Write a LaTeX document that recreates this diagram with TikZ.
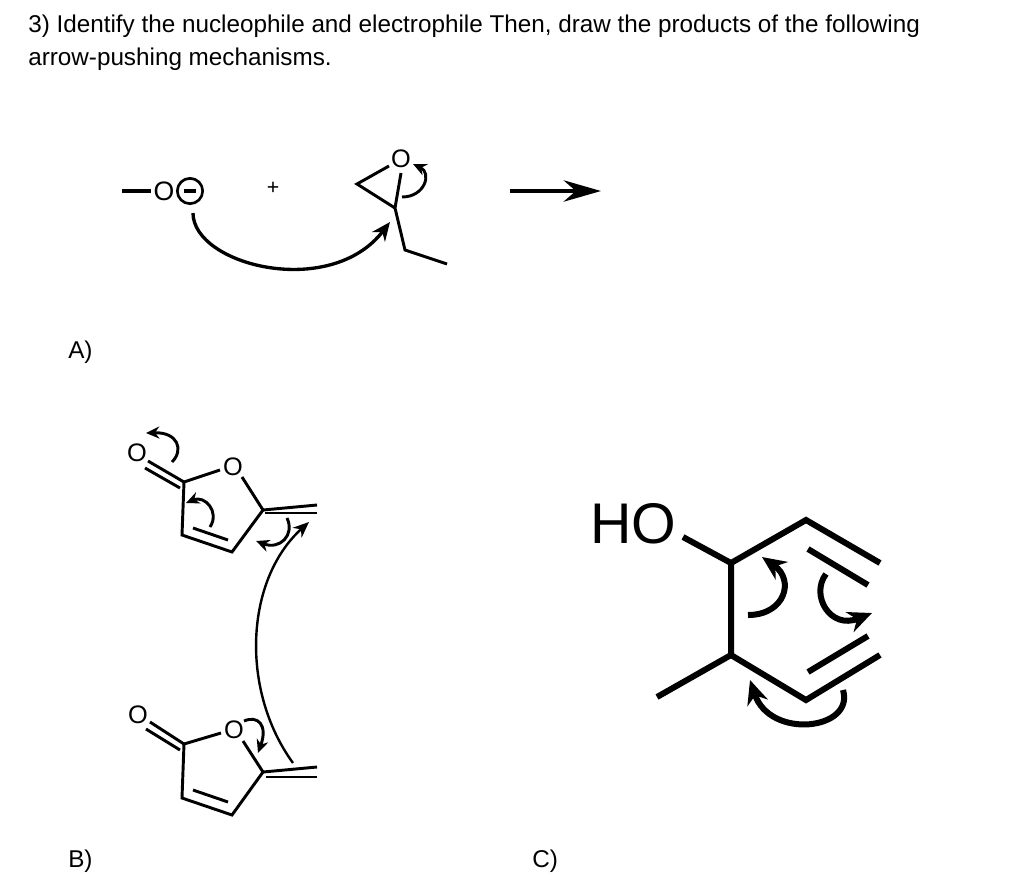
\documentclass[tikz,border=0pt]{standalone}
\usepackage{fontspec}
\setmainfont{Liberation Sans}
\usetikzlibrary{arrows.meta}
\begin{document}
\begin{tikzpicture}[x=0.75pt,y=-0.75pt,
  bt/.style={line width=3pt},
  bb/.style={line width=2.2pt},
  bc/.style={line width=4.5pt},
  arr/.style={-{Stealth[length=10pt,width=9pt]}},
  lab/.style={inner sep=0pt,font=\fontsize{18.2pt}{20pt}\selectfont},
  atom/.style={inner sep=0pt,font=\fontsize{19pt}{20pt}\selectfont}]
\useasboundingbox (0,0) rectangle (1024,883);
\fill[white] (0,0) rectangle (1024,883);
\node[lab,anchor=base west] (t1) at (28,32) {3) Identify the nucleophile and electrophile Then, draw the products of the following};
\node[lab,anchor=base west] (t2) at (28,65) {arrow-pushing mechanisms.};
\node[lab,anchor=base west] (la) at (68,358) {A)};
\node[lab,anchor=base west] (lb) at (68,867) {B)};
\node[lab,anchor=base west] (lc) at (532,867) {C)};
% top reaction
\draw[bt] (122,191) -- (151,191);
\node[font=\fontsize{20pt}{20pt}\selectfont,inner sep=0pt] (o1) at (164,191) {O};
\node[circle,draw,line width=2pt,minimum size=19pt,inner sep=0pt] (neg) at (190,191) {};
\draw[line width=2.5pt] (184,191) -- (196,191);
\node[inner sep=0pt,font=\fontsize{16pt}{16pt}\selectfont] (plus) at (273,188) {+};
\node[atom] (oe) at (401,159) {O};
\coordinate (cl) at (357,184);
\coordinate (cc) at (395,208);
\coordinate (ce) at (405,250);
\coordinate (cm) at (447,264);
\draw[bb] (389,166) -- (cl) -- (cc);
\draw[bb] (401,173) -- (cc) -- (ce) -- (cm);
\draw[bb,arr] (402,197) .. controls (425,197) and (432,173) .. (413,164);
\draw[line width=2.5pt,-{Stealth[length=14pt,width=12pt]}] (193,213) .. controls (193,265) and (330,300) .. (390,222);
\draw[bt,-{Stealth[length=28pt,width=16pt]}] (510,191) -- (601,191);
% B upper
\node[atom] (bo1) at (137,453) {O};
\node[atom] (bo2) at (233,467) {O};
\coordinate (b2) at (184,482);
\coordinate (b5) at (263,510);
\coordinate (b4) at (232,552);
\coordinate (b3) at (182,535);
\draw[bb] (148,461) -- (b2);
\draw[bb] (145,468) -- (180,488);
\draw[bb] (b2) -- (220,470);
\draw[bb] (242,477) -- (b5) -- (b4) -- (b3) -- (b2);
\draw[bb] (b5) -- (317,505);
\draw[bb] (265,513) -- (317,513);
\draw[bb] (193,528) -- (228,540);
\draw[bb,arr] (172,462) .. controls (184,450) and (178,432) .. (146,433);
\draw[bb,arr] (210,527) .. controls (220,512) and (205,495) .. (186,503);
\draw[bb,arr] (287,518) .. controls (295,535) and (280,550) .. (256,541);
% B lower
\node[atom] (bo3) at (138,715) {O};
\node[atom] (bo4) at (234,730) {O};
\coordinate (d2) at (184,744);
\coordinate (d5) at (263,772);
\coordinate (d4) at (232,815);
\coordinate (d3) at (182,798);
\draw[bb] (150,722) -- (d2);
\draw[bb] (146,729) -- (180,750);
\draw[bb] (d2) -- (221,733);
\draw[bb] (243,741) -- (d5) -- (d4) -- (d3) -- (d2);
\draw[bb] (d5) -- (317,767);
\draw[bb] (266,777) -- (317,777);
\draw[bb] (193,790) -- (228,802);
\draw[bb,arr] (244,721) .. controls (258,715) and (268,725) .. (258,753);
\draw[line width=1.8pt,-{Stealth[length=12pt,width=10pt]}] (293,763) .. controls (240,690) and (245,580) .. (309,522);
% C
\node[inner sep=0pt,font=\fontsize{43pt}{44pt}\selectfont] (ho) at (633,524) {HO};
\coordinate (c1) at (731,563);
\coordinate (c2) at (806,520);
\coordinate (c3) at (880,563);
\coordinate (c4) at (880,655);
\coordinate (c5) at (806,700);
\coordinate (c6) at (731,655);
\draw[bc,line join=miter] (683,537) -- (c1) -- (c2) -- (c3);
\draw[bc,line join=miter] (c1) -- (c6) -- (657,697);
\draw[bc,line join=miter] (c6) -- (c5) -- (c4);
\draw[bc] (808,549) -- (868,585);
\draw[bc] (808,672) -- (868,636);
\draw[bc,-{Stealth[length=18pt,width=16pt]}] (748,615) .. controls (785,615) and (795,580) .. (762,557);
\draw[bc,-{Stealth[length=18pt,width=16pt]}] (826,574) .. controls (810,595) and (830,630) .. (872,613);
\draw[bc,-{Stealth[length=18pt,width=16pt]}] (843,690) .. controls (855,730) and (770,740) .. (750,680);
\end{tikzpicture}
\end{document}
